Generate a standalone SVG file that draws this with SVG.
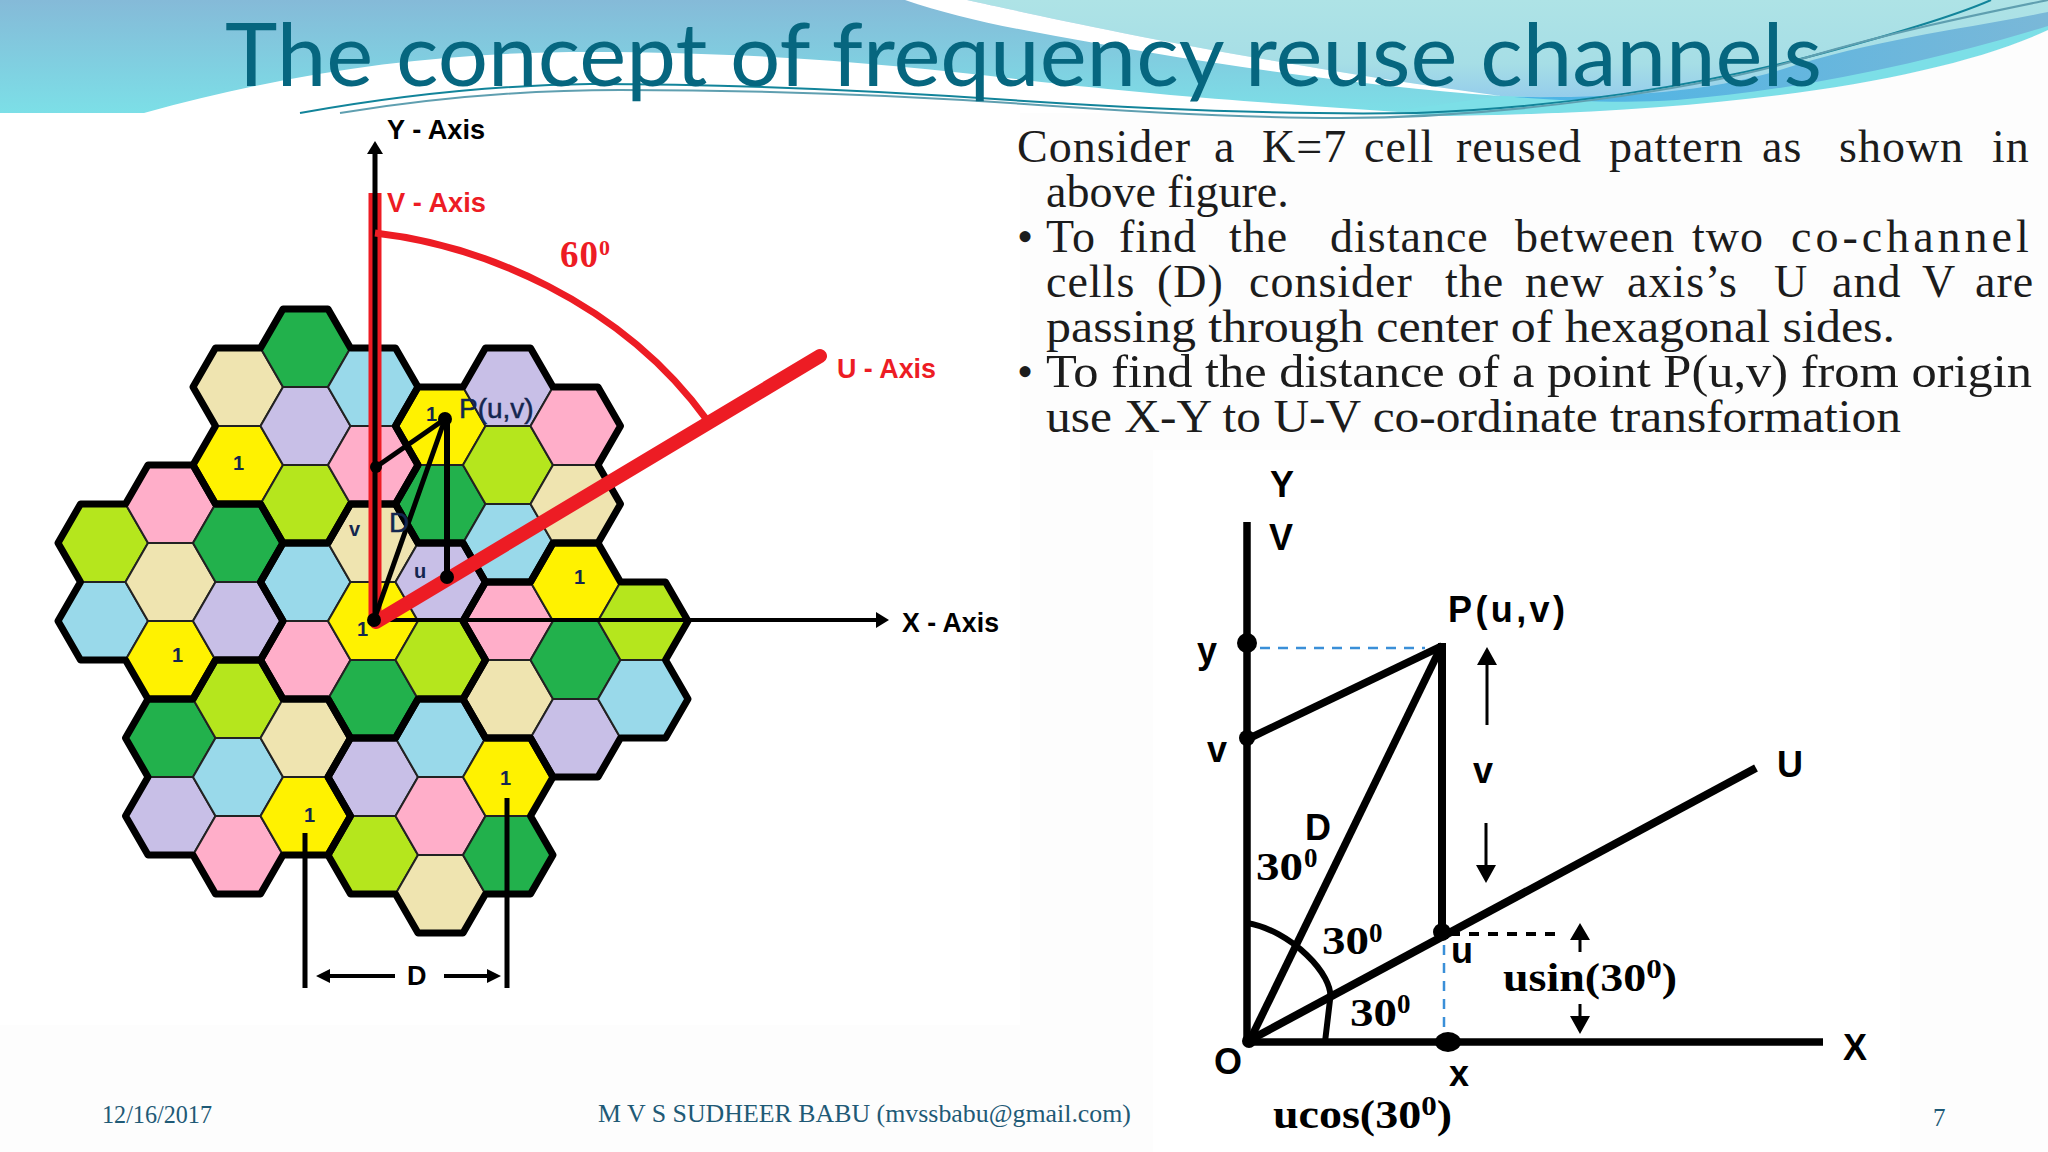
<svg xmlns="http://www.w3.org/2000/svg" width="2048" height="1152" viewBox="0 0 2048 1152">
<style>
.G{fill:#22b14c}.C{fill:#efe4b0}.B{fill:#99d9ea}.L{fill:#c8bfe7}.P{fill:#ffaec9}.M{fill:#b5e61d}.Y{fill:#fff200}
.thin{stroke:#222;stroke-width:2}
.thick{fill:none;stroke:#000;stroke-width:7;stroke-linejoin:round}
.k{stroke:#000;fill:none;stroke-linecap:butt}
.r{stroke:#ed1c24;fill:none}
.ax{font:bold 27px "Liberation Sans",sans-serif}
.n1{font:bold 20px "Liberation Sans",sans-serif;fill:#14264f}
.lb{font:28px "Liberation Sans",sans-serif;fill:#14264f;stroke:#14264f;stroke-width:.5}
.body{font:46px "Liberation Serif",serif;fill:#1c1c1c}
.j{letter-spacing:1px}
.s{font:bold 36px "Liberation Sans",sans-serif;fill:#000}
.d{font:bold 40px "Liberation Serif",serif;fill:#000}
.sup{font:bold 27px "Liberation Serif",serif;fill:#000}
.ft{font:25px "Liberation Serif",serif;fill:#1f5a76}
</style>
<defs>
<linearGradient id="g1" x1="0" y1="0" x2="0" y2="1"><stop offset="0" stop-color="#85bad8"/><stop offset="1" stop-color="#7cdfe7"/></linearGradient>
<linearGradient id="g2" x1="0" y1="0" x2="0" y2="1"><stop offset="0" stop-color="#aee3e6"/><stop offset=".55" stop-color="#a6dee6"/><stop offset="1" stop-color="#8bc3ee"/></linearGradient>
<linearGradient id="g3" x1="0" y1="0" x2="1" y2="0"><stop offset="0" stop-color="#4ab4e6"/><stop offset="1" stop-color="#7ab8d8"/></linearGradient>
<path id="h" d="M-45,0L-22.5,-39H22.5L45,0L22.5,39H-22.5Z"/>
<path id="f" d="M-22.5,-117H22.5L45,-78H90L112.5,-39L90,0L112.5,39L90,78H45L22.5,117H-22.5L-45,78H-90L-112.5,39L-90,0L-112.5,-39L-90,-78H-45Z"/>
</defs>
<rect width="2048" height="1152" fill="#fdfdfd"/>
<rect x="0" y="113" width="1020" height="912" fill="#fff"/>
<rect x="1153" y="450" width="747" height="702" fill="#fff"/>

<g id="header">
<rect width="2048" height="113" fill="url(#g1)"/>
<path d="M960,0H2048V30C1930,85 1700,113 1449,116L1400,113L1501,96C1220,57 1050,18 967,0Z" fill="url(#g2)"/>
<path d="M1380,113L1501,96L1620,100L1808,72L2048,22V30C1930,85 1700,113 1449,116Z" fill="#7cdfe7"/>
<path d="M1514,97C1600,98 1700,95 1780,70C1880,38 1960,30 2048,12V26C1930,62 1800,90 1677,100C1620,104 1560,100 1514,97Z" fill="url(#g3)"/>
<path d="M905,0H967C1050,18 1220,57 1501,96C1350,85 1180,60 1024,30C980,22 940,12 905,0Z" fill="#fff"/>
<path d="M144,113C300,70 440,52 590,52C760,52 900,65 1024,80C1180,98 1300,105 1416,113Z" fill="#fff"/>
<path d="M2048,30C1930,85 1700,113 1449,116L1400,120H2048Z" fill="#fdfdfd"/>
<path d="M300,113C400,95 500,85 590,84C760,84 900,92 1024,101C1180,111 1300,115 1416,113C1560,108 1700,85 1808,57C1880,38 1950,18 1991,0" fill="none" stroke="#12849a" stroke-width="2"/>
<path d="M340,113C420,100 520,90 620,90C760,90 900,95 1024,104C1150,113 1260,118 1340,118C1500,118 1700,90 1808,57C1900,30 1980,14 2048,0" fill="none" stroke="#5f9fb0" stroke-width="2"/>
<text x="225" y="86" font-family="Lato,'Liberation Sans',sans-serif" font-size="88" fill="#06667f" textLength="1597" lengthAdjust="spacingAndGlyphs">The concept of frequency reuse channels</text>
</g>

<g id="hexagons" class="thin" transform="translate(-2,0)">
<use href="#h" x="105" y="543" class="M"/><use href="#h" x="105" y="621" class="B"/>
<use href="#h" x="172.5" y="504" class="P"/><use href="#h" x="172.5" y="582" class="C"/><use href="#h" x="172.5" y="660" class="Y"/><use href="#h" x="172.5" y="738" class="G"/><use href="#h" x="172.5" y="816" class="L"/>
<use href="#h" x="240" y="387" class="C"/><use href="#h" x="240" y="465" class="Y"/><use href="#h" x="240" y="543" class="G"/><use href="#h" x="240" y="621" class="L"/><use href="#h" x="240" y="699" class="M"/><use href="#h" x="240" y="777" class="B"/><use href="#h" x="240" y="855" class="P"/>
<use href="#h" x="307.5" y="348" class="G"/><use href="#h" x="307.5" y="426" class="L"/><use href="#h" x="307.5" y="504" class="M"/><use href="#h" x="307.5" y="582" class="B"/><use href="#h" x="307.5" y="660" class="P"/><use href="#h" x="307.5" y="738" class="C"/><use href="#h" x="307.5" y="816" class="Y"/>
<use href="#h" x="375" y="387" class="B"/><use href="#h" x="375" y="465" class="P"/><use href="#h" x="375" y="543" class="C"/><use href="#h" x="375" y="621" class="Y"/><use href="#h" x="375" y="699" class="G"/><use href="#h" x="375" y="777" class="L"/><use href="#h" x="375" y="855" class="M"/>
<use href="#h" x="442.5" y="426" class="Y"/><use href="#h" x="442.5" y="504" class="G"/><use href="#h" x="442.5" y="582" class="L"/><use href="#h" x="442.5" y="660" class="M"/><use href="#h" x="442.5" y="738" class="B"/><use href="#h" x="442.5" y="816" class="P"/><use href="#h" x="442.5" y="894" class="C"/>
<use href="#h" x="510" y="387" class="L"/><use href="#h" x="510" y="465" class="M"/><use href="#h" x="510" y="543" class="B"/><use href="#h" x="510" y="621" class="P"/><use href="#h" x="510" y="699" class="C"/><use href="#h" x="510" y="777" class="Y"/><use href="#h" x="510" y="855" class="G"/>
<use href="#h" x="577.5" y="426" class="P"/><use href="#h" x="577.5" y="504" class="C"/><use href="#h" x="577.5" y="582" class="Y"/><use href="#h" x="577.5" y="660" class="G"/><use href="#h" x="577.5" y="738" class="L"/>
<use href="#h" x="645" y="621" class="M"/><use href="#h" x="645" y="699" class="B"/>
</g>
<g id="clusters" class="thick" transform="translate(-2,0)">
<use href="#f" x="307.5" y="426"/><use href="#f" x="510" y="465"/><use href="#f" x="375" y="621"/><use href="#f" x="577.5" y="660"/><use href="#f" x="442.5" y="816"/><use href="#f" x="240" y="777"/><use href="#f" x="172.5" y="582"/>
</g>
<g id="cell-labels" class="n1">
<text x="233" y="470">1</text><text x="426" y="421">1</text><text x="574" y="584">1</text><text x="357" y="636">1</text><text x="172" y="662">1</text><text x="304" y="822">1</text><text x="500" y="785">1</text>
</g>

<g id="left-connectors">
<path class="r" d="M375,193V621" stroke-width="13"/>
<path class="k" d="M375,621V152" stroke-width="5"/>
<path d="M375,141L367,154H383Z" fill="#000"/>
<path class="k" d="M375,620H880" stroke-width="4"/>
<path d="M889,620L876,612V628Z" fill="#000"/>
<path class="r" d="M375,233C480,245 620,300 707,420" stroke-width="7"/>
<path class="r" d="M376,622L820,356" stroke-width="14" stroke-linecap="round"/>
<path class="k" d="M445,419L376,467" stroke-width="5"/>
<path class="k" d="M445,419L374,620" stroke-width="5"/>
<path class="k" d="M447,419V577" stroke-width="6"/>
<circle cx="445" cy="419" r="7"/><circle cx="376" cy="467" r="6"/><circle cx="447" cy="577" r="7"/><circle cx="374" cy="620" r="7"/>
<path class="k" d="M305,833V988M507,798V988" stroke-width="5"/>
<path class="k" d="M395,976H325M444,976H490" stroke-width="4"/>
<path d="M316,976L330,969V983ZM501,976L487,969V983Z" fill="#000"/>
</g>
<g id="left-labels">
<text class="ax" x="387" y="139" textLength="98" lengthAdjust="spacingAndGlyphs">Y - Axis</text>
<text class="ax" x="387" y="212" fill="#ed1c24" textLength="99" lengthAdjust="spacingAndGlyphs">V - Axis</text>
<text class="ax" x="837" y="378" fill="#ed1c24" textLength="99" lengthAdjust="spacingAndGlyphs">U - Axis</text>
<text class="ax" x="902" y="632" textLength="97" lengthAdjust="spacingAndGlyphs">X - Axis</text>
<text class="ax" x="407" y="985">D</text>
<text x="560" y="267" font-family="Liberation Serif,serif" font-size="37" font-weight="bold" fill="#ed1c24" textLength="38">60</text>
<text x="599" y="255" font-family="Liberation Serif,serif" font-size="22" font-weight="bold" fill="#ed1c24">0</text>
<text class="lb" x="459" y="418">P(u,v)</text>
<text class="lb" x="389" y="532">D</text>
<text class="n1" x="349" y="536">v</text>
<text class="n1" x="414" y="578">u</text>
</g>

<g id="body-text" class="body">
<text class="j" y="162"><tspan x="1017">Consider</tspan><tspan x="1214">a</tspan><tspan x="1262">K=7</tspan><tspan x="1364">cell</tspan><tspan x="1456">reused</tspan><tspan x="1609">pattern</tspan><tspan x="1762">as</tspan><tspan x="1839">shown</tspan><tspan x="1992">in</tspan></text>
<text x="1046" y="207">above figure.</text>
<text x="1017" y="252">•</text>
<text class="j" y="252"><tspan x="1046">To</tspan><tspan x="1119">find</tspan><tspan x="1229">the</tspan><tspan x="1330">distance</tspan><tspan x="1515">between</tspan><tspan x="1692">two</tspan><tspan x="1791" letter-spacing="4">co-channel</tspan></text>
<text class="j" y="297"><tspan x="1046">cells</tspan><tspan x="1157">(D)</tspan><tspan x="1249">consider</tspan><tspan x="1445">the</tspan><tspan x="1525">new</tspan><tspan x="1627">axis’s</tspan><tspan x="1774">U</tspan><tspan x="1832">and</tspan><tspan x="1922">V</tspan><tspan x="1975">are</tspan></text>
<text x="1046" y="342" textLength="849" lengthAdjust="spacingAndGlyphs">passing through center of hexagonal sides.</text>
<text x="1017" y="387">•</text>
<text x="1046" y="387" textLength="986" lengthAdjust="spacingAndGlyphs">To find the distance of a point P(u,v) from origin</text>
<text x="1046" y="432" textLength="855" lengthAdjust="spacingAndGlyphs">use X-Y to U-V co-ordinate transformation</text>
</g>

<g id="right-connectors">
<path class="k" d="M1247,522V1042" stroke-width="7.5"/>
<path class="k" d="M1247,1042H1823" stroke-width="7.5"/>
<path class="k" d="M1442,643V932" stroke-width="8"/>
<path class="k" d="M1250,738L1442,646" stroke-width="7.5"/>
<path class="k" d="M1442,645L1250,1040" stroke-width="7.5"/>
<path class="k" d="M1250,1040L1756,768" stroke-width="8"/>
<path class="k" d="M1247,923C1290,930 1335,975 1330,1000L1325,1042" stroke-width="6"/>
<path class="k" d="M1450,934H1555" stroke-width="4" stroke-dasharray="10 9"/>
<path d="M1260,648H1425M1444,945V1030" fill="none" stroke="#3a8fd8" stroke-width="2.5" stroke-dasharray="10 8"/>
<circle cx="1247" cy="643" r="10"/><circle cx="1247" cy="738" r="8"/><circle cx="1442" cy="932" r="9"/><circle cx="1249" cy="1041" r="7"/>
<ellipse cx="1448" cy="1042" rx="13" ry="10"/>
<path class="k" d="M1487,725V660M1486,823V870M1580,952V935M1580,1004V1020" stroke-width="3"/>
<path d="M1487,647L1477,665H1497ZM1486,883L1476,865H1496ZM1580,923L1570,940H1590ZM1580,1034L1570,1016H1590Z" fill="#000"/>
</g>
<g id="right-labels">
<text class="s" x="1270" y="497">Y</text>
<text class="s" x="1269" y="550">V</text>
<text class="s" x="1448" y="622" textLength="117" lengthAdjust="spacing">P(u,v)</text>
<text class="s" x="1197" y="663">y</text>
<text class="s" x="1207" y="762">v</text>
<text class="s" x="1473" y="783">v</text>
<text class="s" x="1305" y="840">D</text>
<text class="s" x="1451" y="963">u</text>
<text class="s" x="1214" y="1074">O</text>
<text class="s" x="1449" y="1086">x</text>
<text class="s" x="1777" y="777">U</text>
<text class="s" x="1843" y="1060">X</text>
<text class="d" x="1256" y="880" textLength="47" lengthAdjust="spacingAndGlyphs">30</text><text class="sup" x="1304" y="867">0</text>
<text class="d" x="1322" y="954" textLength="47" lengthAdjust="spacingAndGlyphs">30</text><text class="sup" x="1369" y="942">0</text>
<text class="d" x="1350" y="1026" textLength="47" lengthAdjust="spacingAndGlyphs">30</text><text class="sup" x="1397" y="1013">0</text>
<text class="d" x="1273" y="1128" textLength="179" lengthAdjust="spacingAndGlyphs">ucos(30<tspan class="sup" dy="-13">0</tspan><tspan dy="13">)</tspan></text>
<text class="d" x="1503" y="991" textLength="174" lengthAdjust="spacingAndGlyphs">usin(30<tspan class="sup" dy="-13">0</tspan><tspan dy="13">)</tspan></text>
</g>

<g id="footer" class="ft">
<text x="102" y="1123" textLength="110" lengthAdjust="spacingAndGlyphs">12/16/2017</text>
<text x="598" y="1122" textLength="533" lengthAdjust="spacingAndGlyphs">M V S SUDHEER BABU (mvssbabu@gmail.com)</text>
<text x="1933" y="1126">7</text>
</g>
</svg>
